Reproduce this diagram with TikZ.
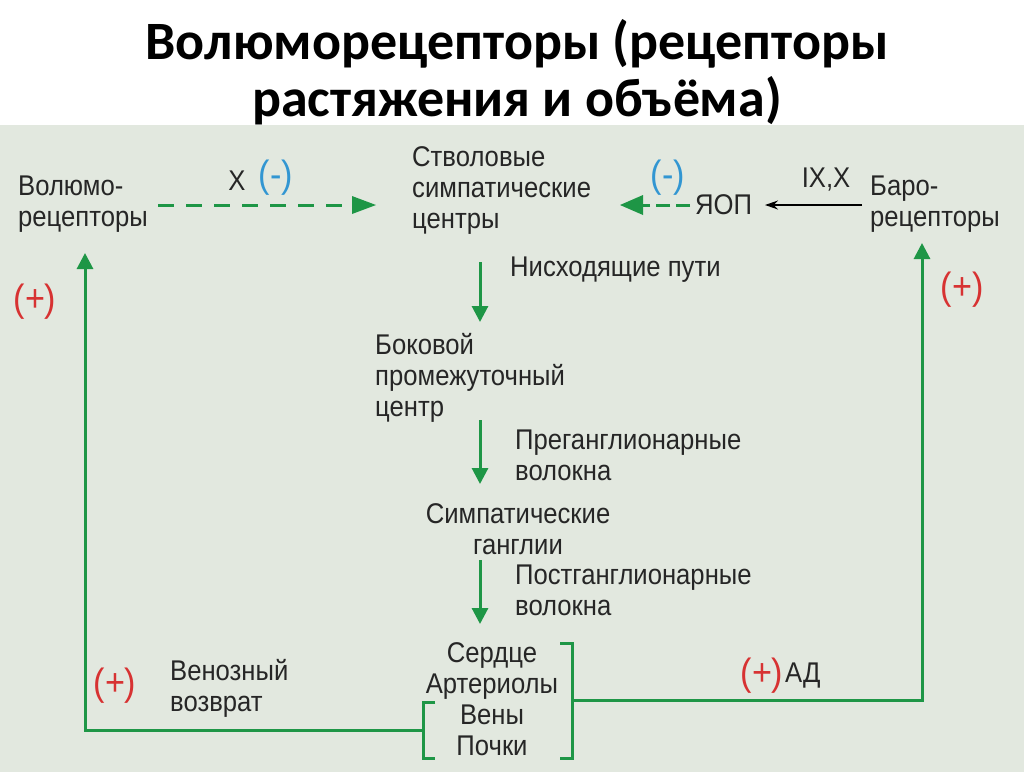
\documentclass[tikz,border=0pt]{standalone}
\usepackage{fontspec}
\setmainfont{Liberation Sans}
\newfontfamily\nar[FakeStretch=0.9]{Liberation Sans}
\newfontfamily\titlefont{Carlito}
\usetikzlibrary{arrows.meta}
\definecolor{bg}{RGB}{226,232,223}
\definecolor{gr}{RGB}{30,150,70}
\definecolor{rd}{RGB}{215,50,50}
\definecolor{bl}{RGB}{50,150,210}
\begin{document}
\begin{tikzpicture}[x=1pt,y=-1pt,
  txt/.style={inner sep=0pt,font=\nar\fontsize{28.5}{31}\selectfont,text=black!85},
  plus/.style={inner sep=0pt,text=rd,font=\nar\fontsize{38}{30}\selectfont},
  minus/.style={inner sep=0pt,text=bl,font=\nar\fontsize{38}{30}\selectfont},
  garrow/.style={draw=gr,line width=3pt,-{Triangle[length=16pt,width=16pt]}},
  gline/.style={draw=gr,line width=3pt}]
\useasboundingbox (0,0) rectangle (1024,772);
\fill[white] (0,0) rectangle (1024,772);
\fill[bg] (0,125) rectangle (1024,772);
\node[font=\titlefont\bfseries\fontsize{54}{57}\selectfont,align=center] (title) at (517,72) {Волюморецепторы (рецепторы\\растяжения и объёма)};

\node[txt,align=left,anchor=west] (vol) at (18,204) {Волюмо-\\рецепторы};
\node[txt,align=left,anchor=west] (stv) at (412,190) {Стволовые\\симпатические\\центры};
\node[txt,anchor=west] (yaop) at (695,205) {ЯОП};
\node[txt,align=left,anchor=west] (baro) at (870,204) {Баро-\\рецепторы};
\node[txt,anchor=west] (nis) at (510,270) {Нисходящие пути};
\node[txt,align=left,anchor=west] (bok) at (375,378) {Боковой\\промежуточный\\центр};
\node[txt,align=left,anchor=west] (pre) at (515,455) {Преганглионарные\\волокна};
\node[txt,align=center] (sg) at (518,529) {Симпатические\\ганглии};
\node[txt,align=left,anchor=west] (post) at (515,590) {Постганглионарные\\волокна};
\node[txt,align=center] (org) at (492,699) {Сердце\\Артериолы\\Вены\\Почки};
\node[txt,align=left,anchor=west] (ven) at (170,688) {Венозный\\возврат};
\node[txt,anchor=west] (ad) at (785,676) {АД};
\node[txt] (xl) at (237,181) {X};
\node[txt] (ixx) at (826,180) {IX,X};

\node[minus] (m1) at (276,178) {(-)};
\node[minus] (m2) at (668,178) {(-)};
\node[plus] (p1) at (35,302) {(+)};
\node[plus] (p2) at (962,290) {(+)};
\node[plus] (p3) at (115,686) {(+)};
\node[plus] (p4) at (762,676) {(+)};

% top arrows
\draw[gr,line width=3pt,dash pattern=on 16pt off 12pt] (158,205) coordinate (d1) -- (352,205) coordinate (d2);
\fill[gr] (352,196) -- (376,205) -- (352,214) -- cycle;
\draw[gr,line width=3pt,dash pattern=on 14pt off 6pt] (yaop.west) ++(-5,0) -- (640,205);
\fill[gr] (643,195) -- (620,205) -- (643,215) -- cycle;
\draw[black,line width=1.5pt,-{Stealth[length=13pt,width=9pt]}] (baro.west |- yaop) ++(-8,0) -- (765,205);

% vertical chain
\draw[garrow] (480,262) -- (480,322);
\draw[garrow] (480,420) -- (480,484);
\draw[garrow] (480,560) -- (480,624);

% brackets
\coordinate (rb) at (572,700);
\coordinate (lb) at (423,730);
\draw[gline] (560,643) -- (572,643) -- (572,758) -- (560,758);
\draw[gline] (435,702) -- (423,702) -- (423,758) -- (435,758);

% feedback loops
\draw[garrow] (rb) -- (922,700) -- (922,243);
\draw[garrow] (lb) -- (85,730) -- (85,253);
\end{tikzpicture}
\end{document}
